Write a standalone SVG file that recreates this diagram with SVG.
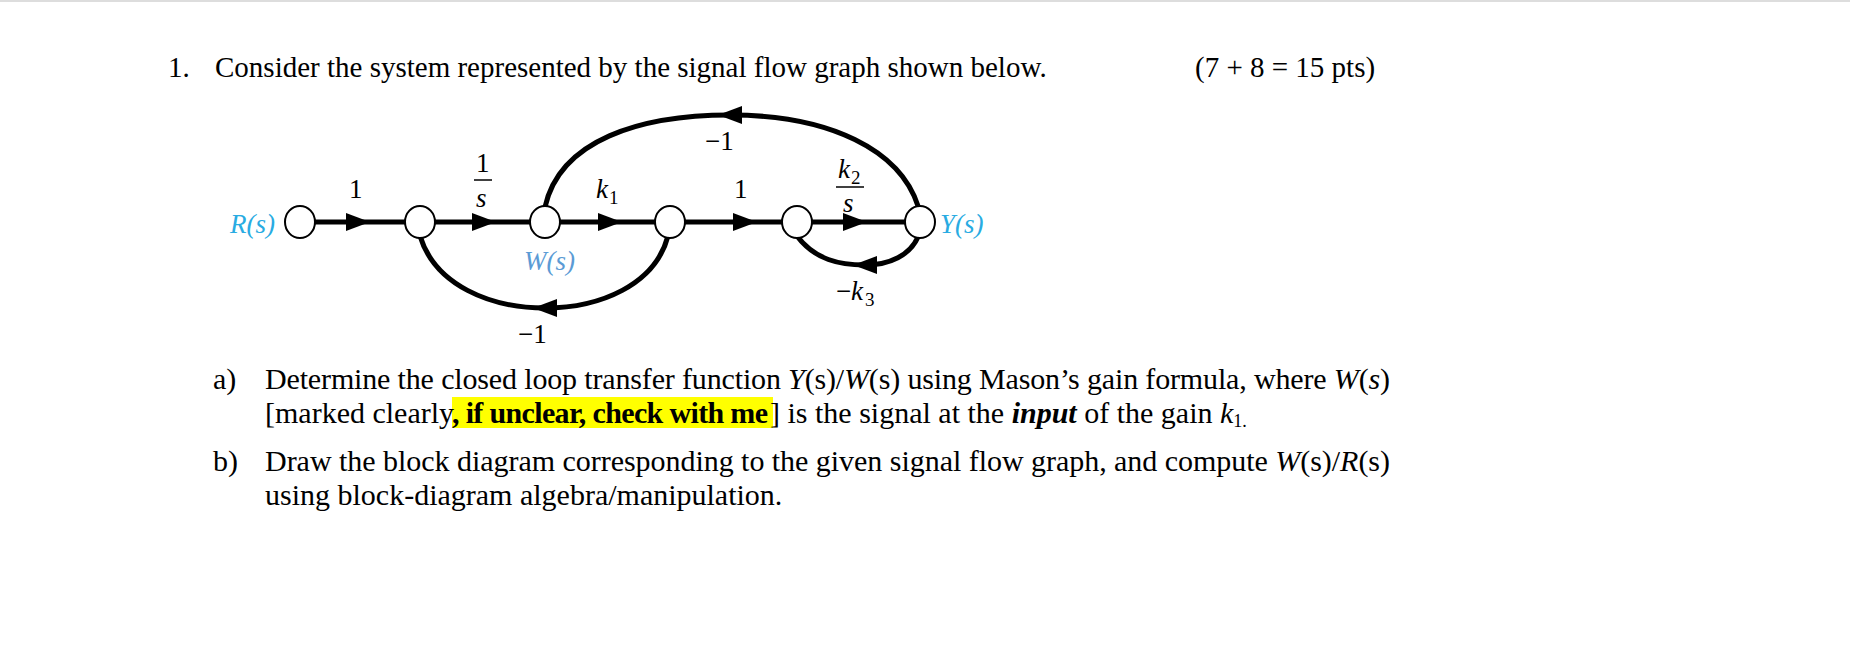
<svg xmlns="http://www.w3.org/2000/svg" width="1850" height="647" viewBox="0 0 1850 647">
<style>
text{font-family:"Liberation Serif",serif;fill:#000}
.t{font-size:29px}
.b{font-size:30px}
.g{font-size:27px}
.i{font-style:italic}
.e{fill:none;stroke:#000;stroke-width:5}
.n{fill:#fff;stroke:#000;stroke-width:2}
</style>
<defs><path id="ah" d="M-12,-9L12,0L-12,9z"/></defs>
<rect width="1850" height="647" fill="#fff"/>
<line x1="0" y1="1" x2="1850" y2="1" stroke="#ddd" stroke-width="2"/>
<text class="t" x="168" y="77">1.</text>
<text class="t" x="215" y="77">Consider the system represented by the signal flow graph shown below.</text>
<text class="t" x="1195" y="77">(7 + 8 = 15 pts)</text>
<g id="connectors">
<path class="e" d="M300,222H920"/>
<path class="e" d="M545,207C560,140 640,115 730,115C830,115 900,150 918,206"/>
<path class="e" d="M420,236C435,285 490,308 545,308C600,308 655,285 668,236"/>
<path class="e" d="M797,236C815,260 840,265 865,265C890,265 910,255 918,237"/>
<use href="#ah" transform="translate(358,222)"/>
<use href="#ah" transform="translate(484,222)"/>
<use href="#ah" transform="translate(610,222)"/>
<use href="#ah" transform="translate(745,222)"/>
<use href="#ah" transform="translate(855,222)"/>
<use href="#ah" transform="translate(730,115) rotate(180)"/>
<use href="#ah" transform="translate(545,308) rotate(180)"/>
<use href="#ah" transform="translate(865,265) rotate(180)"/>
</g>
<g id="n1"><ellipse class="n" cx="300" cy="222" rx="15" ry="16"/></g>
<g id="n2"><ellipse class="n" cx="420" cy="222" rx="15" ry="16"/></g>
<g id="n3"><ellipse class="n" cx="545" cy="222" rx="15" ry="16"/></g>
<g id="n4"><ellipse class="n" cx="670" cy="222" rx="15" ry="16"/></g>
<g id="n5"><ellipse class="n" cx="797" cy="222" rx="15" ry="16"/></g>
<g id="n6"><ellipse class="n" cx="920" cy="222" rx="15" ry="16"/></g>
<text class="g i" x="230" y="233" style="fill:#29abe2">R(s)</text>
<text class="g i" x="524" y="270" style="fill:#5b9bd5">W(s)</text>
<text class="g i" x="940" y="233" style="fill:#29abe2">Y(s)</text>
<text class="g" x="349" y="198">1</text>
<text class="g" x="476" y="172">1</text>
<line x1="474" y1="180" x2="492" y2="180" stroke="#000" stroke-width="1.5"/>
<text class="g i" x="476" y="207">s</text>
<text class="g i" x="596" y="198">k</text><text x="609" y="204" style="font-size:19px">1</text>
<text class="g" x="734" y="198">1</text>
<text class="g" x="705" y="150">−1</text>
<text class="g i" x="838" y="178">k</text><text x="851" y="184" style="font-size:19px">2</text>
<line x1="836" y1="187" x2="864" y2="187" stroke="#000" stroke-width="1.5"/>
<text class="g i" x="843" y="212">s</text>
<text class="g" x="836" y="300">−</text><text class="g i" x="851" y="300">k</text><text x="865" y="306" style="font-size:19px">3</text>
<text class="g" x="518" y="343">−1</text>
<text class="b" x="213" y="389">a)</text>
<text class="b" x="265" y="389" textLength="1125">Determine the closed loop transfer function <tspan class="i">Y</tspan>(s)/<tspan class="i">W</tspan>(s) using Mason’s gain formula, where <tspan class="i">W</tspan>(<tspan class="i">s</tspan>)</text>
<rect x="452" y="397" width="321" height="31" fill="#ffff00"/>
<text class="b" x="265" y="423">[marked clearly</text>
<text class="b" x="452" y="423" font-weight="bold" textLength="316">, if unclear, check with me</text>
<text class="b" x="770" y="423">] is the signal at the <tspan font-weight="bold" font-style="italic">input</tspan> of the gain <tspan class="i">k</tspan><tspan style="font-size:18px" dy="4">1.</tspan></text>
<text class="b" x="213" y="471">b)</text>
<text class="b" x="265" y="471" textLength="1125">Draw the block diagram corresponding to the given signal flow graph, and compute <tspan class="i">W</tspan>(s)/<tspan class="i">R</tspan>(s)</text>
<text class="b" x="265" y="505">using block-diagram algebra/manipulation.</text>
</svg>
